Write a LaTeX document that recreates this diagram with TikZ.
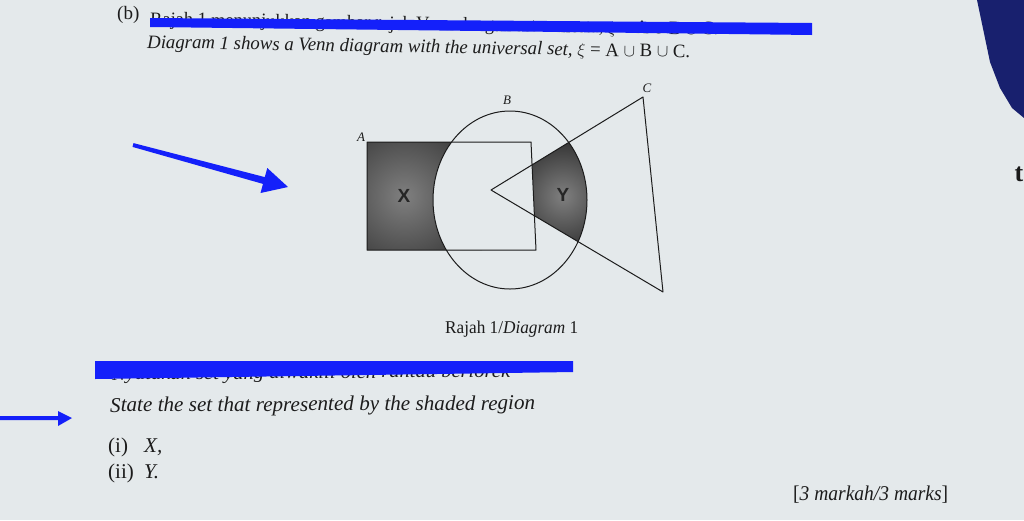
\documentclass[tikz,border=0pt]{standalone}
\usepackage{fontspec}
\usepackage{graphicx}
\setmainfont{Liberation Serif}
\newfontfamily\lsans{Liberation Sans}
\definecolor{hilite}{RGB}{20,32,250}
\definecolor{pagebg}{RGB}{228,233,235}
\definecolor{navy}{RGB}{24,32,110}
\definecolor{ink}{RGB}{28,28,28}
\newcommand\fitw[2]{\resizebox{#1}{\height}{#2}}
\begin{document}
\begin{tikzpicture}[x=1pt,y=-1pt,
  bgfill/.style={fill=pagebg},
  outline/.style={draw=ink,line width=1pt,line join=round},
  darkfill/.style={inner color=black!50,outer color=black!82},
  vlabel/.style={font=\lsans\bfseries\fontsize{19}{19}\selectfont,text=black!85,inner sep=0pt},
  setlabel/.style={font=\itshape\fontsize{13}{13}\selectfont,text=ink,inner sep=0pt},
  txt/.style={font=\fontsize{19}{19}\selectfont,text=ink,inner sep=0pt,anchor=base west},
  txtb/.style={font=\fontsize{21}{21}\selectfont,text=ink,inner sep=0pt,anchor=base west}]
\useasboundingbox (0,0) rectangle (1024,520);
\fill[bgfill] (0,0) rectangle (1024,520);
% dark corner top right
\fill[navy] (977,0) -- (1024,0) -- (1024,118) -- (1012,108) -- (1000,88) -- (990,62) -- cycle;
\node[font=\bfseries\fontsize{26}{26}\selectfont,text=black!90,inner sep=0pt] (tchar) at (1019,174) {t};

% header
\node[txt] (b) at (117,19) {(b)};
\node[txt,rotate=-1.0] (malay) at (150,25) {\fitw{568pt}{Rajah 1 menunjukkan gambar rajah Venn dengan set semesta, $\xi$ = A $\cup$ B $\cup$ C.}};
\fill[hilite] (150,18) -- (812,23) -- (812,35) -- (150,27) -- cycle;
\node[txt,rotate=-1] (intro) at (147,48) {\fitw{543pt}{\itshape Diagram 1 shows a Venn diagram with the universal set, \upshape$\xi$ = A $\cup$ B $\cup$ C.}};

% arrow 1
\fill[hilite] (133.5,143.1) -- (264.8,177.1) -- (267.3,168.0) -- (288,187) -- (260.5,193.0) -- (263.0,183.9) -- (132.5,146.9) -- cycle;

% Venn diagram
\coordinate (ra) at (367,142);
\coordinate (rb) at (531,142);
\coordinate (rc) at (536,250);
\coordinate (rd) at (367,250);
\coordinate (bc) at (510,200);
\coordinate (ta) at (491,190);
\coordinate (tb) at (643,97);
\coordinate (tc) at (663,292);
% region X
\begin{scope}
  \clip (ra) -- (rb) -- (rc) -- (rd) -- cycle;
  \shade[darkfill] (404,196) circle (95);
  \fill[bgfill] (bc) ellipse [x radius=77, y radius=89];
\end{scope}
% region Y
\begin{scope}
  \clip (bc) ellipse [x radius=77, y radius=89];
  \clip (ta) -- (tb) -- (tc) -- cycle;
  \shade[darkfill] (563,196) circle (60);
  \fill[bgfill] (ra) -- (rb) -- (rc) -- (rd) -- cycle;
\end{scope}
\draw[outline] (ra) -- (rb) -- (rc) -- (rd) -- cycle;
\draw[outline] (bc) ellipse [x radius=77, y radius=89];
\draw[outline] (ta) -- (tb) -- (tc) -- cycle;
\node[vlabel] (lx) at (404,196) {X};
\node[vlabel] (ly) at (563,195) {Y};
\node[setlabel] (la) at (361,137) {A};
\node[setlabel] (lb) at (507,100) {B};
\node[setlabel] (lc) at (647,88) {C};

\node[txt,font=\fontsize{18}{18}\selectfont] (cap) at (445,333) {\fitw{133pt}{Rajah 1/\textit{Diagram} 1}};

% question
\node[txt,rotate=0.43] (nyata) at (112,380) {\fitw{398pt}{\itshape Nyatakan set yang diwakili oleh rantau berlorek}};
\fill[hilite] (95,361) -- (573,361) -- (573,372) -- (95,379) -- cycle;
\node[txtb,rotate=0.3] (state) at (110,412) {\fitw{425pt}{\itshape State the set that represented by the shaded region}};
% arrow 2
\fill[hilite] (0,416) -- (58,416) -- (58,411) -- (72,418) -- (58,426) -- (58,420) -- (0,420) -- cycle;

\node[txtb] (i) at (108,452) {(i)};
\node[txtb] (ix) at (144,452) {\itshape X,};
\node[txtb] (ii) at (108,478) {(ii)};
\node[txtb] (iiy) at (144,478) {\itshape Y.};
\node[txtb] (marks) at (793,500) {\fitw{155pt}{[\textit{3 markah/3 marks}]}};
\end{tikzpicture}
\end{document}
